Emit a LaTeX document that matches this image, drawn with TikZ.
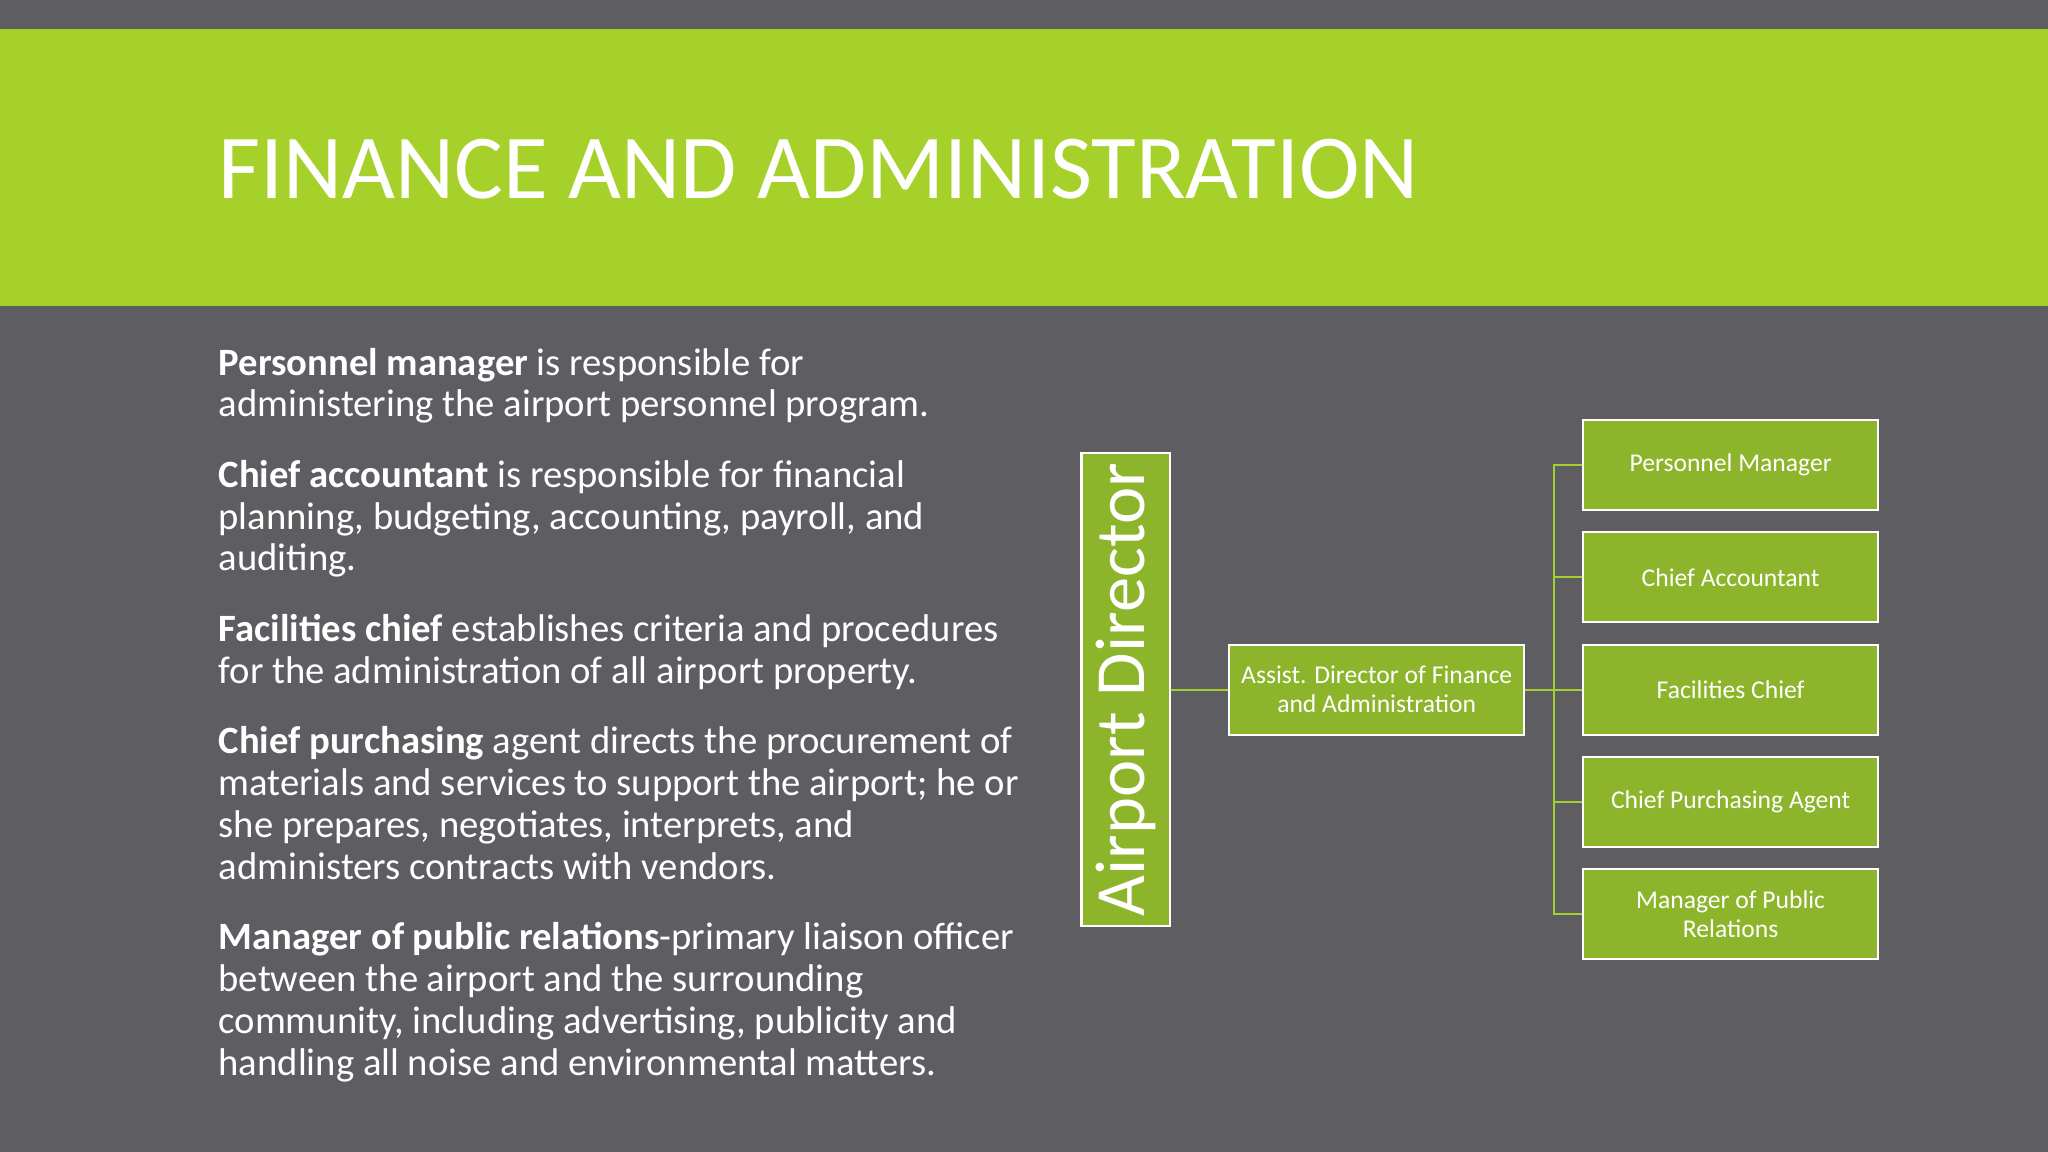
\documentclass[tikz,border=0pt]{standalone}
\usepackage{fontspec}
\setmainfont{Carlito}
\definecolor{bg}{HTML}{5E5D61}
\definecolor{band}{HTML}{A6D12B}
\definecolor{boxg}{HTML}{8CB52B}
\definecolor{lineg}{HTML}{A6D12B}
\begin{document}
\begin{tikzpicture}[x=0.5pt,y=-0.5pt,
  orgbox/.style={draw=white,line width=0.8pt,fill=boxg,text=white,minimum width=113pt,minimum height=34.5pt,inner sep=2pt,align=center,font=\fontsize{9.8}{11}\selectfont},
  para/.style={anchor=north west,text=white,inner sep=0,align=left,font=\fontsize{14.8}{16}\selectfont},
  conn/.style={draw=lineg,line width=0.7pt}]
\fill[bg] (0,0) rectangle (1568,882);
\useasboundingbox (0,0) rectangle (1568,882);
\fill[band] (0,22) rectangle (1568,234);
\node[anchor=base west,text=white,inner sep=0,font=\fontsize{35}{35}\selectfont] (title) at (167,152) {FINANCE AND ADMINISTRATION};
\node[para] (p1) at (167,266) {\textbf{Personnel manager} is responsible for\\administering the airport personnel program.};
\node[para] (p2) at (167,352) {\textbf{Chief accountant} is responsible for financial\\planning, budgeting, accounting, payroll, and\\auditing.};
\node[para] (p3) at (167,470) {\textbf{Facilities chief} establishes criteria and procedures\\for the administration of all airport property.};
\node[para] (p4) at (167,556) {\textbf{Chief purchasing} agent directs the procurement of\\materials and services to support the airport; he or\\she prepares, negotiates, interprets, and\\administers contracts with vendors.};
\node[para] (p5) at (167,706) {\textbf{Manager of public relations}-primary liaison officer\\between the airport and the surrounding\\community, including advertising, publicity and\\handling all noise and environmental matters.};
\node[draw=white,line width=0.8pt,fill=boxg,text=white,minimum width=181pt,minimum height=34pt,rotate=90,inner sep=0,font=\fontsize{27}{27}\selectfont] (ad) at (862,528) {Airport Director};
\node[orgbox] (asst) at (1054,528) {Assist. Director of Finance\\and Administration};
\node[orgbox] (pm) at (1325,356) {Personnel Manager};
\node[orgbox] (ca) at (1325,442) {Chief Accountant};
\node[orgbox] (fc) at (1325,528) {Facilities Chief};
\node[orgbox] (cp) at (1325,614) {Chief Purchasing Agent};
\node[orgbox] (mp) at (1325,700) {Manager of Public\\Relations};
\coordinate (bus) at (1190,528);
\draw[conn] (ad.south) -- (asst.west);
\draw[conn] (asst.east) -- (bus);
\foreach \n in {pm,ca,fc,cp,mp} \draw[conn] (bus) |- (\n.west);
\end{tikzpicture}
\end{document}
